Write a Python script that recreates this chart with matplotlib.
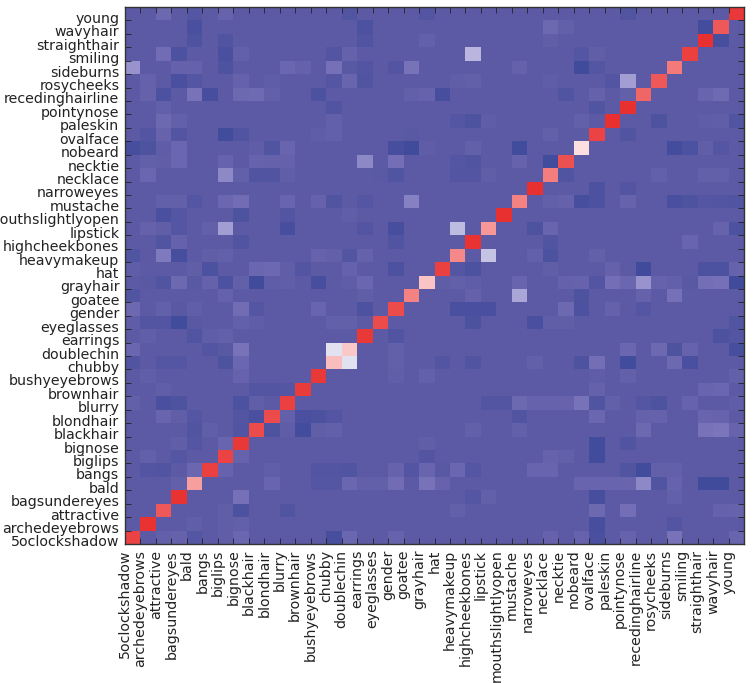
import numpy as np
import matplotlib
matplotlib.use("Agg")
import matplotlib.pyplot as plt
from matplotlib.colors import LinearSegmentedColormap
from matplotlib.transforms import ScaledTranslation

labels = ["5oclockshadow","archedeyebrows","attractive","bagsundereyes","bald","bangs","biglips",
          "bignose","blackhair","blondhair","blurry","brownhair","bushyeyebrows","chubby","doublechin",
          "earrings","eyeglasses","gender","goatee","grayhair","hat","heavymakeup","highcheekbones",
          "lipstick","mouthslightlyopen","mustache","narroweyes","necklace","necktie","nobeard","ovalface",
          "paleskin","pointynose","recedinghairline","rosycheeks","sideburns","smiling","straighthair",
          "wavyhair","young"]

# Cells that differ visibly from the background level (column index: level 0-100)
background_level = 20
row_5oclockshadow = {0:95,2:24,3:25,4:17,6:23,7:28,13:10,14:28,17:26,27:25,29:26,30:12,32:26,35:36,39:27}
row_archedeyebrows = {1:99,4:23,6:23,7:24,30:10,35:16}
row_attractive = {2:90,6:23,7:13,10:15,21:24,30:30,32:33,38:25,39:26}
row_bagsundereyes = {3:99,7:34,22:17,23:24,30:10,35:24}
row_bald = {3:24,4:76,9:27,12:17,13:17,14:28,15:24,16:24,17:32,19:36,20:26,29:27,30:27,31:27,32:27,33:42,34:15,35:26,37:7,38:7}
row_bangs = {1:16,2:15,4:28,5:96,6:26,9:23,12:16,13:16,14:15,17:26,18:16,19:27,20:18,21:28,22:17,26:27,27:27,32:15,33:8,34:24,35:24}
row_biglips = {1:24,3:17,6:95,7:26,19:16,27:26,28:24,30:8}
row_bignose = {3:23,4:17,6:27,7:98,19:23,30:8,32:15}
row_blackhair = {4:15,5:23,7:15,8:93,9:14,10:22,11:9,12:23,13:24,22:24,25:24,33:30,37:36,38:37,39:26}
row_blondhair = {2:27,3:23,4:17,7:16,8:12,9:93,10:24,11:12,12:13,13:16,25:15,30:28,33:25,34:25,37:27,38:26}
row_blurry = {0:24,2:12,3:14,7:13,8:23,10:96,23:16,24:16,25:30,26:26,27:26,28:26,29:36,30:15,31:24,33:17,34:14,36:26,39:22}
row_brownhair = {2:23,8:16,9:16,10:17,11:97,30:25,37:27,38:28}
row_bushyeyebrows = {1:23,7:26,12:98,17:23,19:24,30:22,32:24,39:24}
row_chubby = {0:15,2:17,3:17,6:14,7:28,13:72,14:58,17:24,20:16,22:15,26:24,29:14,30:33,32:8,35:30,36:12}
row_doublechin = {0:28,1:20,5:16,6:18,7:36,13:58,14:70,17:24,32:28,34:30,35:14,36:26,39:10}
row_earrings = {1:23,4:15,5:22,6:24,15:98,17:15,38:13,39:16}
row_eyeglasses = {0:22,1:16,2:16,3:8,4:18,7:24,8:22,13:24,14:24,16:93,22:13,26:12,27:23,28:23,39:15}
row_gender = {0:30,2:24,3:18,4:23,7:32,8:17,12:27,15:13,17:93,21:12,22:12,23:12,28:30,29:13,31:25,33:17}
row_goatee = {0:15,6:25,15:23,18:80,22:25,25:50,29:14,33:25,35:34}
row_grayhair = {1:18,2:15,3:30,4:18,5:25,6:13,7:24,8:7,9:22,10:23,11:20,12:10,13:20,14:22,15:28,16:20,19:71,20:22,21:24,22:22,25:27,28:25,29:26,30:16,31:33,32:28,33:45,34:26,35:24,36:18,37:33,38:34,39:7}
row_hat = {0:22,4:23,5:13,8:28,9:30,10:23,11:16,14:25,17:13,20:96,21:17,22:13,27:23,31:25,33:7,37:13,38:13,39:26}
row_heavymakeup = {0:15,2:38,3:10,5:23,6:24,12:26,13:24,14:16,15:25,18:20,21:79,23:54,26:24,27:13,30:24}
row_highcheekbones = {2:15,3:25,7:15,17:15,22:99,27:15,36:27}
row_lipstick = {1:25,2:23,3:17,5:24,6:48,10:10,15:16,17:10,21:53,23:77,26:14,27:27,38:26,39:13}
row_mouthslightlyopen = {2:12,3:17,7:14,10:16,14:23,24:100}
row_mustache = {2:24,3:24,4:17,6:28,7:32,10:27,12:25,13:15,15:17,18:40,25:80,27:24,28:25,29:10,30:13,32:26,35:12,36:14,37:17,38:16,39:15}
row_narroweyes = {26:100,30:13,32:16}
row_necklace = {1:28,6:42,7:24,8:15,9:15,10:23,16:19,17:15,21:16,22:16,23:23,27:81,28:15,34:24,37:24,38:24}
row_necktie = {1:24,2:23,3:28,6:26,8:26,9:25,10:25,15:42,17:33,21:17,22:15,25:26,27:8,28:92}
row_nobeard = {0:10,1:14,2:22,3:28,8:22,9:15,10:27,17:10,18:7,19:22,22:24,25:8,29:66,35:9,36:13,37:23,38:17}
row_ovalface = {1:16,2:26,3:16,6:8,7:15,12:22,13:24,18:18,27:24,30:95,32:15}
row_paleskin = {2:30,3:24,13:24,21:17,22:14,23:22,29:24,31:100,34:14,37:22,38:23,39:15}
row_pointynose = {2:24,13:15,30:15,32:100}
row_recedinghairline = {1:25,2:13,4:36,5:10,7:30,8:31,9:24,12:13,18:24,19:26,20:10,28:15,30:25,32:24,33:87,37:27,38:31}
row_rosycheeks = {1:25,3:12,4:17,7:25,9:22,13:17,14:27,15:15,21:23,22:24,27:22,31:16,32:48,34:90}
row_sideburns = {0:45,3:25,4:25,6:14,10:28,11:25,13:34,14:18,15:16,17:16,18:36,25:25,29:7,30:17,35:82}
row_smiling = {2:32,3:13,6:12,7:24,13:16,14:25,22:52,29:17,30:23,36:96}
row_straighthair = {4:14,6:15,15:15,19:24,27:23,37:100,38:10}
row_wavyhair = {4:12,15:13,27:30,28:24,37:9,38:90}
row_young = {2:30,4:17,6:26,14:15,19:16,32:15,39:98}

rows = [row_5oclockshadow,row_archedeyebrows,row_attractive,row_bagsundereyes,row_bald,row_bangs,row_biglips,
        row_bignose,row_blackhair,row_blondhair,row_blurry,row_brownhair,row_bushyeyebrows,row_chubby,row_doublechin,
        row_earrings,row_eyeglasses,row_gender,row_goatee,row_grayhair,row_hat,row_heavymakeup,row_highcheekbones,
        row_lipstick,row_mouthslightlyopen,row_mustache,row_narroweyes,row_necklace,row_necktie,row_nobeard,row_ovalface,
        row_paleskin,row_pointynose,row_recedinghairline,row_rosycheeks,row_sideburns,row_smiling,row_straighthair,
        row_wavyhair,row_young]

matrix = np.full((len(labels), len(labels)), background_level, dtype=float)
for r, cells in enumerate(rows):
    for c, v in cells.items():
        matrix[r, c] = v

stops = [(0.00,(58,70,152)),(0.07,(64,75,155)),(0.20,(92,90,165)),(0.36,(120,115,185)),
         (0.50,(170,165,215)),(0.58,(225,225,240)),(0.65,(253,228,228)),(0.72,(250,190,190)),
         (0.80,(245,130,130)),(1.00,(232,48,48))]
cmap = LinearSegmentedColormap.from_list("rb", [(p, tuple(x/255 for x in c)) for p, c in stops])

fig = plt.figure(figsize=(7.56, 6.83), dpi=100)
ax = fig.add_axes([125/756, 1-544/683, (744-125)/756, (544-7)/683])
ax.pcolormesh(np.arange(41), np.arange(41), matrix, cmap=cmap, vmin=0, vmax=100)
ax.set_xlim(0, 40)
ax.set_ylim(0, 40)
ax.set_xticks(np.arange(40))
ax.set_yticks(np.arange(40))
ax.set_xticklabels(labels, rotation=90, fontsize=10.2, color="#222222")
ax.set_yticklabels(labels, fontsize=10.2, color="#222222")
ax.tick_params(direction="in", top=True, right=True, length=4, width=0.6, color="#222222", pad=4)
shift = ScaledTranslation(0, 3/72*0.72, fig.dpi_scale_trans)
for t in ax.get_yticklabels():
    t.set_transform(t.get_transform() + shift)
for s in ax.spines.values():
    s.set_linewidth(1.0)
    s.set_color("#333333")
fig.savefig("out.png", dpi=100)
